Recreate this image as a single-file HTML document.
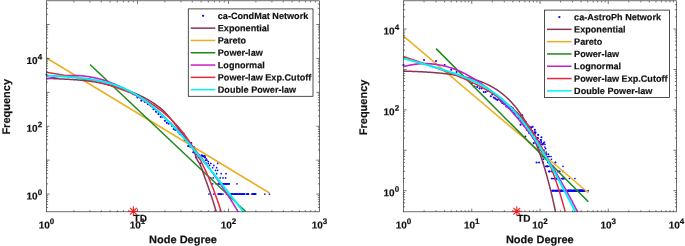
<!DOCTYPE html>
<html><head><meta charset="utf-8"><title>Degree distribution fits</title>
<style>
html,body{margin:0;padding:0;background:#fff}
svg{display:block}
text{font-family:"Liberation Sans", Arial, Helvetica, sans-serif;font-weight:bold;fill:#111;stroke:#111;stroke-width:0.18px}
.t{font-size:10px}.sup{font-size:8px}
.l{font-size:9.1px}
.a{font-size:11px}
.td{font-size:10px}
</style></head>
<body>
<svg width="685" height="246" viewBox="0 0 685 246">
<rect width="685" height="246" fill="#fff"/>
<rect x="46.5" y="0.8" width="273" height="211" fill="#fff" stroke="none"/>
<g fill="#0808f6"><circle cx="46.5" cy="74.75" r="1.05"/><circle cx="73.89" cy="77.18" r="1.05"/><circle cx="89.92" cy="79.21" r="1.05"/><circle cx="101.29" cy="82.21" r="1.05"/><circle cx="110.11" cy="83.65" r="1.05"/><circle cx="117.31" cy="86.02" r="1.05"/><circle cx="123.4" cy="88.27" r="1.05"/><circle cx="128.68" cy="91.57" r="1.05"/><circle cx="133.34" cy="94.23" r="1.05"/><circle cx="137.5" cy="97.42" r="1.05"/><circle cx="141.27" cy="100.82" r="1.05"/><circle cx="144.71" cy="101.85" r="1.05"/><circle cx="147.87" cy="104.16" r="1.05"/><circle cx="150.8" cy="105.79" r="1.05"/><circle cx="153.52" cy="109.3" r="1.05"/><circle cx="156.07" cy="111.83" r="1.05"/><circle cx="158.47" cy="114.1" r="1.05"/><circle cx="160.73" cy="117.1" r="1.05"/><circle cx="162.87" cy="116.79" r="1.05"/><circle cx="164.89" cy="120.77" r="1.05"/><circle cx="166.82" cy="122.84" r="1.05"/><circle cx="168.66" cy="123.68" r="1.05"/><circle cx="170.42" cy="123.31" r="1.05"/><circle cx="172.1" cy="126.1" r="1.05"/><circle cx="173.71" cy="128.99" r="1.05"/><circle cx="175.26" cy="129.9" r="1.05"/><circle cx="176.75" cy="129.53" r="1.05"/><circle cx="178.19" cy="131.71" r="1.05"/><circle cx="179.58" cy="133.77" r="1.05"/><circle cx="180.92" cy="134.27" r="1.05"/><circle cx="182.21" cy="134.01" r="1.05"/><circle cx="183.47" cy="133.52" r="1.05"/><circle cx="184.68" cy="140.11" r="1.05"/><circle cx="185.86" cy="140.49" r="1.05"/><circle cx="187.01" cy="142.13" r="1.05"/><circle cx="188.12" cy="146.08" r="1.05"/><circle cx="189.21" cy="144.99" r="1.05"/><circle cx="190.26" cy="146.66" r="1.05"/><circle cx="191.29" cy="143.02" r="1.05"/><circle cx="192.29" cy="146.66" r="1.05"/><circle cx="193.26" cy="152.34" r="1.05"/><circle cx="194.22" cy="147.26" r="1.05"/><circle cx="195.15" cy="150.7" r="1.05"/><circle cx="196.05" cy="157.47" r="1.05"/><circle cx="196.94" cy="154.18" r="1.05"/><circle cx="197.81" cy="155.2" r="1.05"/><circle cx="198.66" cy="157.47" r="1.05"/><circle cx="199.49" cy="155.2" r="1.05"/><circle cx="200.31" cy="163.44" r="1.05"/><circle cx="201.11" cy="157.47" r="1.05"/><circle cx="201.89" cy="155.2" r="1.05"/><circle cx="202.66" cy="156.29" r="1.05"/><circle cx="203.41" cy="156.29" r="1.05"/><circle cx="204.15" cy="156.29" r="1.05"/><circle cx="204.87" cy="156.29" r="1.05"/><circle cx="208.97" cy="194.07" r="0.85"/><circle cx="213.84" cy="194.07" r="0.85"/><circle cx="218.17" cy="194.07" r="0.85"/><circle cx="218.68" cy="194.07" r="0.85"/><circle cx="219.18" cy="194.07" r="0.85"/><circle cx="219.68" cy="194.07" r="0.85"/><circle cx="220.17" cy="194.07" r="0.85"/><circle cx="220.66" cy="194.07" r="0.85"/><circle cx="221.14" cy="194.07" r="0.85"/><circle cx="221.61" cy="194.07" r="0.85"/><circle cx="223" cy="194.07" r="0.85"/><circle cx="226.47" cy="194.07" r="0.85"/><circle cx="230.05" cy="194.07" r="0.85"/><circle cx="231.17" cy="194.07" r="0.85"/><circle cx="231.54" cy="194.07" r="0.85"/><circle cx="231.91" cy="194.07" r="0.85"/><circle cx="232.27" cy="194.07" r="0.85"/><circle cx="232.62" cy="194.07" r="0.85"/><circle cx="232.98" cy="194.07" r="0.85"/><circle cx="234.02" cy="194.07" r="0.85"/><circle cx="234.37" cy="194.07" r="0.85"/><circle cx="234.7" cy="194.07" r="0.85"/><circle cx="235.04" cy="194.07" r="0.85"/><circle cx="235.37" cy="194.07" r="0.85"/><circle cx="235.71" cy="194.07" r="0.85"/><circle cx="236.03" cy="194.07" r="0.85"/><circle cx="236.36" cy="194.07" r="0.85"/><circle cx="236.68" cy="194.07" r="0.85"/><circle cx="237.32" cy="194.07" r="0.85"/><circle cx="237.63" cy="194.07" r="0.85"/><circle cx="237.95" cy="194.07" r="0.85"/><circle cx="238.87" cy="194.07" r="0.85"/><circle cx="239.17" cy="194.07" r="0.85"/><circle cx="239.77" cy="194.07" r="0.85"/><circle cx="240.07" cy="194.07" r="0.85"/><circle cx="240.36" cy="194.07" r="0.85"/><circle cx="240.65" cy="194.07" r="0.85"/><circle cx="240.94" cy="194.07" r="0.85"/><circle cx="241.23" cy="194.07" r="0.85"/><circle cx="242.36" cy="194.07" r="0.85"/><circle cx="242.64" cy="194.07" r="0.85"/><circle cx="242.91" cy="194.07" r="0.85"/><circle cx="243.18" cy="194.07" r="0.85"/><circle cx="243.46" cy="194.07" r="0.85"/><circle cx="243.73" cy="194.07" r="0.85"/><circle cx="243.99" cy="194.07" r="0.85"/><circle cx="244.26" cy="194.07" r="0.85"/><circle cx="244.79" cy="194.07" r="0.85"/><circle cx="246.83" cy="194.07" r="0.85"/><circle cx="247.07" cy="194.07" r="0.85"/><circle cx="247.57" cy="194.07" r="0.85"/><circle cx="247.81" cy="194.07" r="0.85"/><circle cx="248.29" cy="194.07" r="0.85"/><circle cx="248.53" cy="194.07" r="0.85"/><circle cx="251.95" cy="194.07" r="0.85"/><circle cx="252.38" cy="194.07" r="0.85"/><circle cx="252.6" cy="194.07" r="0.85"/><circle cx="253.03" cy="194.07" r="0.85"/><circle cx="253.24" cy="194.07" r="0.85"/><circle cx="253.45" cy="194.07" r="0.85"/><circle cx="253.66" cy="194.07" r="0.85"/><circle cx="253.87" cy="194.07" r="0.85"/><circle cx="254.07" cy="194.07" r="0.85"/><circle cx="254.28" cy="194.07" r="0.85"/><circle cx="254.49" cy="194.07" r="0.85"/><circle cx="254.69" cy="194.07" r="0.85"/><circle cx="254.89" cy="194.07" r="0.85"/><circle cx="255.1" cy="194.07" r="0.85"/><circle cx="255.3" cy="194.07" r="0.85"/><circle cx="255.5" cy="194.07" r="0.85"/><circle cx="255.7" cy="194.07" r="0.85"/><circle cx="264.87" cy="194.07" r="0.85"/><circle cx="269.47" cy="194.07" r="0.85"/><circle cx="212.67" cy="183.86" r="0.85"/><circle cx="216.06" cy="183.86" r="0.85"/><circle cx="218.17" cy="183.86" r="0.85"/><circle cx="219.18" cy="183.86" r="0.85"/><circle cx="219.68" cy="183.86" r="0.85"/><circle cx="220.17" cy="183.86" r="0.85"/><circle cx="220.66" cy="183.86" r="0.85"/><circle cx="221.14" cy="183.86" r="0.85"/><circle cx="221.61" cy="183.86" r="0.85"/><circle cx="222.08" cy="183.86" r="0.85"/><circle cx="222.54" cy="183.86" r="0.85"/><circle cx="223" cy="183.86" r="0.85"/><circle cx="223.45" cy="183.86" r="0.85"/><circle cx="223.89" cy="183.86" r="0.85"/><circle cx="224.34" cy="183.86" r="0.85"/><circle cx="225.2" cy="183.86" r="0.85"/><circle cx="225.63" cy="183.86" r="0.85"/><circle cx="226.05" cy="183.86" r="0.85"/><circle cx="226.47" cy="183.86" r="0.85"/><circle cx="226.89" cy="183.86" r="0.85"/><circle cx="227.3" cy="183.86" r="0.85"/><circle cx="227.7" cy="183.86" r="0.85"/><circle cx="228.5" cy="183.86" r="0.85"/><circle cx="228.89" cy="183.86" r="0.85"/><circle cx="229.28" cy="183.86" r="0.85"/><circle cx="237" cy="183.86" r="0.85"/><circle cx="210.86" cy="177.89" r="0.85"/><circle cx="213.26" cy="177.89" r="0.85"/><circle cx="217.13" cy="177.89" r="0.85"/><circle cx="220.17" cy="177.89" r="0.85"/><circle cx="223" cy="177.89" r="0.85"/><circle cx="225.63" cy="177.89" r="0.85"/><circle cx="216.6" cy="173.65" r="0.85"/><circle cx="221.14" cy="173.65" r="0.85"/><circle cx="226.05" cy="173.65" r="0.85"/><circle cx="215.52" cy="170.36" r="0.85"/><circle cx="217.65" cy="170.36" r="0.85"/><circle cx="212.67" cy="167.68" r="0.85"/><circle cx="216.6" cy="167.68" r="0.85"/><circle cx="209.61" cy="165.41" r="0.85"/><circle cx="213.84" cy="165.41" r="0.85"/><circle cx="206.28" cy="163.44" r="0.85"/><circle cx="208.31" cy="163.44" r="0.85"/><circle cx="210.86" cy="163.44" r="0.85"/><circle cx="217.65" cy="163.44" r="0.85"/><circle cx="208.31" cy="161.71" r="0.85"/><circle cx="205.59" cy="160.15" r="0.85"/><circle cx="206.97" cy="160.15" r="0.85"/><circle cx="206.28" cy="158.75" r="0.85"/><circle cx="204.87" cy="157.47" r="1.05"/></g>
<path d="M46.5 58 L269.5 193" fill="none" stroke="#ecaf22" stroke-width="1.5" stroke-linejoin="round"/>
<path d="M90 64.5 L245.6 211.5" fill="none" stroke="#1b8a1b" stroke-width="1.5" stroke-linejoin="round"/>
<path d="M46.5 78.4 L47.18 78.42 L47.87 78.44 L48.55 78.46 L49.24 78.48 L49.92 78.5 L50.61 78.52 L51.29 78.55 L51.97 78.57 L52.66 78.6 L53.34 78.62 L54.03 78.65 L54.71 78.67 L55.39 78.7 L56.08 78.73 L56.76 78.76 L57.45 78.79 L58.13 78.82 L58.82 78.85 L59.5 78.88 L60.18 78.91 L60.87 78.94 L61.55 78.97 L62.24 79.01 L62.92 79.04 L63.61 79.07 L64.29 79.11 L64.97 79.14 L65.66 79.18 L66.34 79.22 L67.03 79.25 L67.71 79.29 L68.39 79.33 L69.08 79.37 L69.76 79.41 L70.45 79.45 L71.13 79.5 L71.82 79.54 L72.5 79.58 L73.18 79.63 L73.87 79.67 L74.55 79.72 L75.24 79.77 L75.92 79.82 L76.61 79.87 L77.29 79.92 L77.97 79.97 L78.66 80.03 L79.34 80.08 L80.03 80.14 L80.71 80.2 L81.39 80.26 L82.08 80.32 L82.76 80.38 L83.45 80.44 L84.13 80.51 L84.82 80.58 L85.5 80.65 L86.18 80.73 L86.87 80.81 L87.55 80.89 L88.24 80.97 L88.92 81.06 L89.61 81.15 L90.29 81.25 L90.97 81.34 L91.66 81.44 L92.34 81.54 L93.03 81.65 L93.71 81.75 L94.39 81.86 L95.08 81.97 L95.76 82.08 L96.45 82.2 L97.13 82.32 L97.82 82.44 L98.5 82.56 L99.18 82.68 L99.87 82.81 L100.55 82.93 L101.24 83.06 L101.92 83.19 L102.61 83.33 L103.29 83.46 L103.97 83.59 L104.66 83.73 L105.34 83.88 L106.03 84.02 L106.71 84.17 L107.39 84.33 L108.08 84.49 L108.76 84.65 L109.45 84.82 L110.13 84.99 L110.82 85.17 L111.5 85.34 L112.18 85.53 L112.87 85.71 L113.55 85.9 L114.24 86.09 L114.92 86.29 L115.61 86.49 L116.29 86.69 L116.97 86.9 L117.66 87.11 L118.34 87.32 L119.03 87.53 L119.71 87.75 L120.39 87.97 L121.08 88.19 L121.76 88.42 L122.45 88.64 L123.13 88.87 L123.82 89.11 L124.5 89.34 L125.18 89.58 L125.87 89.82 L126.55 90.06 L127.24 90.3 L127.92 90.55 L128.61 90.79 L129.29 91.04 L129.97 91.29 L130.66 91.54 L131.34 91.8 L132.03 92.07 L132.71 92.34 L133.39 92.62 L134.08 92.9 L134.76 93.19 L135.45 93.48 L136.13 93.78 L136.82 94.08 L137.5 94.39 L138.18 94.71 L138.87 95.02 L139.55 95.35 L140.24 95.68 L140.92 96.01 L141.61 96.35 L142.29 96.69 L142.97 97.04 L143.66 97.39 L144.34 97.75 L145.03 98.11 L145.71 98.47 L146.39 98.84 L147.08 99.22 L147.76 99.6 L148.45 99.99 L149.13 100.39 L149.82 100.8 L150.5 101.21 L151.18 101.64 L151.87 102.07 L152.55 102.51 L153.24 102.96 L153.92 103.41 L154.61 103.88 L155.29 104.35 L155.97 104.82 L156.66 105.31 L157.34 105.8 L158.03 106.3 L158.71 106.81 L159.39 107.33 L160.08 107.87 L160.76 108.42 L161.45 109 L162.13 109.6 L162.82 110.23 L163.5 110.88 L164.18 111.55 L164.87 112.25 L165.55 112.97 L166.24 113.7 L166.92 114.46 L167.61 115.23 L168.29 116.01 L168.97 116.81 L169.66 117.61 L170.34 118.42 L171.03 119.23 L171.71 120.05 L172.39 120.88 L173.08 121.73 L173.76 122.59 L174.45 123.48 L175.13 124.37 L175.82 125.26 L176.5 126.16 L177.18 127.04 L177.87 127.9 L178.55 128.76 L179.24 129.62 L179.92 130.47 L180.61 131.33 L181.29 132.2 L181.97 133.08 L182.66 133.97 L183.34 134.89 L184.03 135.84 L184.71 136.78 L185.39 137.71 L186.08 138.62 L186.76 139.54 L187.45 140.46 L188.13 141.4 L188.82 142.36 L189.5 143.34 L190.18 144.37 L190.87 145.44 L191.55 146.57 L192.24 147.76 L192.92 149.02 L193.61 150.35 L194.29 151.78 L194.97 153.57 L195.66 155.74 L196.34 157.85 L197.03 159.47 L197.71 160.73 L198.39 161.8 L199.08 162.84 L199.76 163.97 L200.45 165.31 L201.13 166.92 L201.82 168.71 L202.5 170.65 L203.18 172.67 L203.87 174.71 L204.55 176.72 L205.24 178.66 L205.92 180.57 L206.61 182.47 L207.29 184.37 L207.97 186.28 L208.66 188.2 L209.34 190.15 L210.03 192.12 L210.71 194.14 L211.39 196.19 L212.08 198.27 L212.76 200.38 L213.45 202.53 L214.13 204.71 L214.82 206.92 L215.5 209.17 L216.18 211.45 L216.29 211.8" fill="none" stroke="#8b3456" stroke-width="1.5" stroke-linejoin="round"/>
<path d="M46.5 78.92 L47.18 78.75 L47.87 78.57 L48.55 78.41 L49.24 78.24 L49.92 78.08 L50.61 77.93 L51.29 77.78 L51.97 77.63 L52.66 77.49 L53.34 77.36 L54.03 77.23 L54.71 77.1 L55.39 76.98 L56.08 76.86 L56.76 76.75 L57.45 76.64 L58.13 76.54 L58.82 76.44 L59.5 76.35 L60.18 76.26 L60.87 76.17 L61.55 76.1 L62.24 76.02 L62.92 75.95 L63.61 75.88 L64.29 75.82 L64.97 75.77 L65.66 75.72 L66.34 75.67 L67.03 75.63 L67.71 75.59 L68.39 75.56 L69.08 75.53 L69.76 75.5 L70.45 75.49 L71.13 75.47 L71.82 75.46 L72.5 75.46 L73.18 75.46 L73.87 75.46 L74.55 75.47 L75.24 75.48 L75.92 75.5 L76.61 75.53 L77.29 75.55 L77.97 75.59 L78.66 75.62 L79.34 75.67 L80.03 75.71 L80.71 75.76 L81.39 75.82 L82.08 75.88 L82.76 75.94 L83.45 76.01 L84.13 76.09 L84.82 76.17 L85.5 76.25 L86.18 76.34 L86.87 76.43 L87.55 76.53 L88.24 76.63 L88.92 76.74 L89.61 76.85 L90.29 76.97 L90.97 77.09 L91.66 77.22 L92.34 77.35 L93.03 77.48 L93.71 77.62 L94.39 77.77 L95.08 77.92 L95.76 78.07 L96.45 78.23 L97.13 78.39 L97.82 78.56 L98.5 78.73 L99.18 78.91 L99.87 79.09 L100.55 79.28 L101.24 79.47 L101.92 79.66 L102.61 79.86 L103.29 80.07 L103.97 80.28 L104.66 80.49 L105.34 80.71 L106.03 80.94 L106.71 81.17 L107.39 81.4 L108.08 81.64 L108.76 81.88 L109.45 82.13 L110.13 82.38 L110.82 82.64 L111.5 82.9 L112.18 83.16 L112.87 83.43 L113.55 83.71 L114.24 83.99 L114.92 84.27 L115.61 84.56 L116.29 84.86 L116.97 85.16 L117.66 85.46 L118.34 85.77 L119.03 86.08 L119.71 86.4 L120.39 86.72 L121.08 87.04 L121.76 87.38 L122.45 87.71 L123.13 88.05 L123.82 88.4 L124.5 88.75 L125.18 89.1 L125.87 89.46 L126.55 89.83 L127.24 90.19 L127.92 90.57 L128.61 90.95 L129.29 91.33 L129.97 91.72 L130.66 92.11 L131.34 92.5 L132.03 92.91 L132.71 93.31 L133.39 93.72 L134.08 94.14 L134.76 94.56 L135.45 94.98 L136.13 95.41 L136.82 95.85 L137.5 96.28 L138.18 96.73 L138.87 97.18 L139.55 97.63 L140.24 98.09 L140.92 98.55 L141.61 99.01 L142.29 99.49 L142.97 99.96 L143.66 100.44 L144.34 100.93 L145.03 101.42 L145.71 101.91 L146.39 102.41 L147.08 102.92 L147.76 103.42 L148.45 103.94 L149.13 104.46 L149.82 104.98 L150.5 105.51 L151.18 106.04 L151.87 106.57 L152.55 107.12 L153.24 107.66 L153.92 108.21 L154.61 108.77 L155.29 109.33 L155.97 109.89 L156.66 110.46 L157.34 111.04 L158.03 111.62 L158.71 112.2 L159.39 112.79 L160.08 113.38 L160.76 113.98 L161.45 114.58 L162.13 115.19 L162.82 115.8 L163.5 116.41 L164.18 117.03 L164.87 117.66 L165.55 118.29 L166.24 118.92 L166.92 119.56 L167.61 120.21 L168.29 120.86 L168.97 121.51 L169.66 122.17 L170.34 122.83 L171.03 123.5 L171.71 124.17 L172.39 124.85 L173.08 125.53 L173.76 126.21 L174.45 126.91 L175.13 127.6 L175.82 128.3 L176.5 129.01 L177.18 129.72 L177.87 130.43 L178.55 131.15 L179.24 131.87 L179.92 132.6 L180.61 133.33 L181.29 134.07 L181.97 134.81 L182.66 135.56 L183.34 136.31 L184.03 137.07 L184.71 137.83 L185.39 138.59 L186.08 139.36 L186.76 140.14 L187.45 140.92 L188.13 141.7 L188.82 142.49 L189.5 143.28 L190.18 144.08 L190.87 144.88 L191.55 145.69 L192.24 146.5 L192.92 147.32 L193.61 148.14 L194.29 148.97 L194.97 149.8 L195.66 150.64 L196.34 151.48 L197.03 152.32 L197.71 153.17 L198.39 154.02 L199.08 154.88 L199.76 155.75 L200.45 156.61 L201.13 157.49 L201.82 158.37 L202.5 159.25 L203.18 160.13 L203.87 161.03 L204.55 161.92 L205.24 162.82 L205.92 163.73 L206.61 164.64 L207.29 165.55 L207.97 166.47 L208.66 167.4 L209.34 168.33 L210.03 169.26 L210.71 170.2 L211.39 171.14 L212.08 172.09 L212.76 173.04 L213.45 174 L214.13 174.96 L214.82 175.93 L215.5 176.9 L216.18 177.87 L216.87 178.85 L217.55 179.84 L218.24 180.83 L218.92 181.82 L219.61 182.82 L220.29 183.82 L220.97 184.83 L221.66 185.84 L222.34 186.86 L223.03 187.88 L223.71 188.91 L224.39 189.94 L225.08 190.98 L225.76 192.02 L226.45 193.07 L227.13 194.12 L227.82 195.17 L228.5 196.23 L229.18 197.3 L229.87 198.36 L230.55 199.44 L231.24 200.52 L231.92 201.6 L232.61 202.69 L233.29 203.78 L233.97 204.88 L234.66 205.98 L235.34 207.08 L236.03 208.19 L236.71 209.31 L237.39 210.43 L238.08 211.56 L238.23 211.8" fill="none" stroke="#c81fc8" stroke-width="1.6" stroke-linejoin="round"/>
<path d="M46.5 72.35 L47.18 72.46 L47.87 72.56 L48.55 72.67 L49.24 72.78 L49.92 72.88 L50.61 72.99 L51.29 73.1 L51.97 73.21 L52.66 73.32 L53.34 73.43 L54.03 73.54 L54.71 73.65 L55.39 73.76 L56.08 73.87 L56.76 73.98 L57.45 74.09 L58.13 74.21 L58.82 74.32 L59.5 74.44 L60.18 74.55 L60.87 74.67 L61.55 74.78 L62.24 74.9 L62.92 75.02 L63.61 75.14 L64.29 75.26 L64.97 75.37 L65.66 75.5 L66.34 75.62 L67.03 75.74 L67.71 75.86 L68.39 75.98 L69.08 76.11 L69.76 76.23 L70.45 76.36 L71.13 76.48 L71.82 76.61 L72.5 76.74 L73.18 76.87 L73.87 77 L74.55 77.13 L75.24 77.26 L75.92 77.39 L76.61 77.53 L77.29 77.66 L77.97 77.8 L78.66 77.93 L79.34 78.07 L80.03 78.21 L80.71 78.35 L81.39 78.49 L82.08 78.63 L82.76 78.77 L83.45 78.91 L84.13 79.06 L84.82 79.2 L85.5 79.35 L86.18 79.5 L86.87 79.65 L87.55 79.8 L88.24 79.95 L88.92 80.1 L89.61 80.26 L90.29 80.41 L90.97 80.57 L91.66 80.73 L92.34 80.89 L93.03 81.05 L93.71 81.21 L94.39 81.37 L95.08 81.54 L95.76 81.7 L96.45 81.87 L97.13 82.04 L97.82 82.21 L98.5 82.38 L99.18 82.56 L99.87 82.74 L100.55 82.91 L101.24 83.09 L101.92 83.27 L102.61 83.46 L103.29 83.64 L103.97 83.83 L104.66 84.02 L105.34 84.21 L106.03 84.4 L106.71 84.59 L107.39 84.79 L108.08 84.99 L108.76 85.19 L109.45 85.39 L110.13 85.59 L110.82 85.8 L111.5 86.01 L112.18 86.22 L112.87 86.43 L113.55 86.65 L114.24 86.87 L114.92 87.09 L115.61 87.31 L116.29 87.54 L116.97 87.76 L117.66 88 L118.34 88.23 L119.03 88.46 L119.71 88.7 L120.39 88.94 L121.08 89.19 L121.76 89.44 L122.45 89.69 L123.13 89.94 L123.82 90.2 L124.5 90.45 L125.18 90.72 L125.87 90.98 L126.55 91.25 L127.24 91.52 L127.92 91.8 L128.61 92.08 L129.29 92.36 L129.97 92.64 L130.66 92.93 L131.34 93.23 L132.03 93.52 L132.71 93.82 L133.39 94.13 L134.08 94.44 L134.76 94.75 L135.45 95.06 L136.13 95.38 L136.82 95.71 L137.5 96.04 L138.18 96.37 L138.87 96.71 L139.55 97.05 L140.24 97.4 L140.92 97.75 L141.61 98.11 L142.29 98.47 L142.97 98.83 L143.66 99.2 L144.34 99.58 L145.03 99.96 L145.71 100.35 L146.39 100.74 L147.08 101.14 L147.76 101.54 L148.45 101.95 L149.13 102.36 L149.82 102.78 L150.5 103.21 L151.18 103.64 L151.87 104.08 L152.55 104.52 L153.24 104.97 L153.92 105.43 L154.61 105.89 L155.29 106.36 L155.97 106.84 L156.66 107.32 L157.34 107.81 L158.03 108.31 L158.71 108.82 L159.39 109.33 L160.08 109.85 L160.76 110.38 L161.45 110.92 L162.13 111.46 L162.82 112.01 L163.5 112.57 L164.18 113.14 L164.87 113.72 L165.55 114.31 L166.24 114.9 L166.92 115.5 L167.61 116.12 L168.29 116.74 L168.97 117.37 L169.66 118.01 L170.34 118.66 L171.03 119.33 L171.71 120 L172.39 120.68 L173.08 121.37 L173.76 122.07 L174.45 122.79 L175.13 123.51 L175.82 124.25 L176.5 125 L177.18 125.76 L177.87 126.53 L178.55 127.31 L179.24 128.11 L179.92 128.91 L180.61 129.73 L181.29 130.57 L181.97 131.41 L182.66 132.27 L183.34 133.15 L184.03 134.04 L184.71 134.94 L185.39 135.85 L186.08 136.79 L186.76 137.73 L187.45 138.69 L188.13 139.67 L188.82 140.66 L189.5 141.67 L190.18 142.69 L190.87 143.73 L191.55 144.79 L192.24 145.86 L192.92 146.95 L193.61 148.06 L194.29 149.19 L194.97 150.34 L195.66 151.5 L196.34 152.68 L197.03 153.89 L197.71 155.11 L198.39 156.35 L199.08 157.61 L199.76 158.89 L200.45 160.2 L201.13 161.52 L201.82 162.87 L202.5 164.24 L203.18 165.63 L203.87 167.04 L204.55 168.48 L205.24 169.94 L205.92 171.43 L206.61 172.94 L207.29 174.47 L207.97 176.04 L208.66 177.62 L209.34 179.23 L210.03 180.87 L210.71 182.54 L211.39 184.23 L212.08 185.96 L212.76 187.71 L213.45 189.49 L214.13 191.3 L214.82 193.14 L215.5 195.01 L216.18 196.91 L216.87 198.85 L217.55 200.81 L218.24 202.81 L218.92 204.85 L219.61 206.91 L220.29 209.02 L220.97 211.15 L221.18 211.8" fill="none" stroke="#e5283f" stroke-width="1.5" stroke-linejoin="round"/>
<path d="M46.5 75.56 L47.18 75.59 L47.87 75.63 L48.55 75.66 L49.24 75.7 L49.92 75.73 L50.61 75.77 L51.29 75.81 L51.97 75.84 L52.66 75.88 L53.34 75.92 L54.03 75.96 L54.71 75.99 L55.39 76.03 L56.08 76.07 L56.76 76.11 L57.45 76.16 L58.13 76.2 L58.82 76.24 L59.5 76.28 L60.18 76.33 L60.87 76.37 L61.55 76.42 L62.24 76.46 L62.92 76.51 L63.61 76.55 L64.29 76.6 L64.97 76.65 L65.66 76.7 L66.34 76.75 L67.03 76.8 L67.71 76.86 L68.39 76.91 L69.08 76.96 L69.76 77.02 L70.45 77.07 L71.13 77.13 L71.82 77.19 L72.5 77.25 L73.18 77.31 L73.87 77.37 L74.55 77.44 L75.24 77.5 L75.92 77.57 L76.61 77.63 L77.29 77.7 L77.97 77.77 L78.66 77.84 L79.34 77.91 L80.03 77.99 L80.71 78.06 L81.39 78.14 L82.08 78.22 L82.76 78.3 L83.45 78.38 L84.13 78.47 L84.82 78.55 L85.5 78.64 L86.18 78.73 L86.87 78.82 L87.55 78.91 L88.24 79.01 L88.92 79.11 L89.61 79.21 L90.29 79.31 L90.97 79.41 L91.66 79.52 L92.34 79.63 L93.03 79.74 L93.71 79.85 L94.39 79.97 L95.08 80.09 L95.76 80.21 L96.45 80.34 L97.13 80.46 L97.82 80.59 L98.5 80.73 L99.18 80.86 L99.87 81 L100.55 81.15 L101.24 81.29 L101.92 81.44 L102.61 81.59 L103.29 81.75 L103.97 81.91 L104.66 82.07 L105.34 82.24 L106.03 82.41 L106.71 82.58 L107.39 82.76 L108.08 82.94 L108.76 83.13 L109.45 83.32 L110.13 83.52 L110.82 83.71 L111.5 83.92 L112.18 84.13 L112.87 84.34 L113.55 84.55 L114.24 84.78 L114.92 85 L115.61 85.23 L116.29 85.47 L116.97 85.71 L117.66 85.96 L118.34 86.21 L119.03 86.46 L119.71 86.73 L120.39 86.99 L121.08 87.26 L121.76 87.54 L122.45 87.83 L123.13 88.11 L123.82 88.41 L124.5 88.71 L125.18 89.02 L125.87 89.33 L126.55 89.65 L127.24 89.97 L127.92 90.3 L128.61 90.64 L129.29 90.98 L129.97 91.33 L130.66 91.68 L131.34 92.05 L132.03 92.41 L132.71 92.79 L133.39 93.17 L134.08 93.55 L134.76 93.95 L135.45 94.35 L136.13 94.75 L136.82 95.17 L137.5 95.59 L138.18 96.01 L138.87 96.45 L139.55 96.89 L140.24 97.33 L140.92 97.79 L141.61 98.24 L142.29 98.71 L142.97 99.18 L143.66 99.66 L144.34 100.15 L145.03 100.64 L145.71 101.14 L146.39 101.65 L147.08 102.16 L147.76 102.68 L148.45 103.2 L149.13 103.73 L149.82 104.27 L150.5 104.82 L151.18 105.37 L151.87 105.93 L152.55 106.49 L153.24 107.06 L153.92 107.63 L154.61 108.22 L155.29 108.8 L155.97 109.4 L156.66 110 L157.34 110.6 L158.03 111.22 L158.71 111.83 L159.39 112.46 L160.08 113.09 L160.76 113.72 L161.45 114.36 L162.13 115.01 L162.82 115.66 L163.5 116.31 L164.18 116.97 L164.87 117.64 L165.55 118.31 L166.24 118.99 L166.92 119.67 L167.61 120.35 L168.29 121.04 L168.97 121.74 L169.66 122.44 L170.34 123.14 L171.03 123.85 L171.71 124.57 L172.39 125.28 L173.08 126.01 L173.76 126.73 L174.45 127.46 L175.13 128.2 L175.82 128.93 L176.5 129.68 L177.18 130.42 L177.87 131.17 L178.55 131.92 L179.24 132.68 L179.92 133.44 L180.61 134.2 L181.29 134.97 L181.97 135.74 L182.66 136.51 L183.34 137.29 L184.03 138.06 L184.71 138.85 L185.39 139.63 L186.08 140.42 L186.76 141.21 L187.45 142 L188.13 142.8 L188.82 143.59 L189.5 144.4 L190.18 145.2 L190.87 146 L191.55 146.81 L192.24 147.62 L192.92 148.43 L193.61 149.25 L194.29 150.06 L194.97 150.88 L195.66 151.7 L196.34 152.53 L197.03 153.35 L197.71 154.18 L198.39 155 L199.08 155.83 L199.76 156.67 L200.45 157.5 L201.13 158.33 L201.82 159.17 L202.5 160.01 L203.18 160.85 L203.87 161.69 L204.55 162.53 L205.24 163.38 L205.92 164.22 L206.61 165.07 L207.29 165.91 L207.97 166.76 L208.66 167.61 L209.34 168.46 L210.03 169.32 L210.71 170.17 L211.39 171.03 L212.08 171.88 L212.76 172.74 L213.45 173.6 L214.13 174.45 L214.82 175.31 L215.5 176.17 L216.18 177.04 L216.87 177.9 L217.55 178.76 L218.24 179.62 L218.92 180.49 L219.61 181.35 L220.29 182.22 L220.97 183.09 L221.66 183.96 L222.34 184.82 L223.03 185.69 L223.71 186.56 L224.39 187.43 L225.08 188.3 L225.76 189.18 L226.45 190.05 L227.13 190.92 L227.82 191.79 L228.5 192.67 L229.18 193.54 L229.87 194.42 L230.55 195.29 L231.24 196.17 L231.92 197.04 L232.61 197.92 L233.29 198.8 L233.97 199.67 L234.66 200.55 L235.34 201.43 L236.03 202.31 L236.71 203.19 L237.39 204.07 L238.08 204.95 L238.76 205.83 L239.45 206.71 L240.13 207.59 L240.82 208.47 L241.5 209.35 L242.18 210.23 L242.87 211.11 L243.4 211.8" fill="none" stroke="#00f2f2" stroke-width="2.0" stroke-linejoin="round"/>
<path d="M73.89 211.8v-1.6M73.89 0.8v1.6M89.92 211.8v-1.6M89.92 0.8v1.6M101.29 211.8v-1.6M101.29 0.8v1.6M110.11 211.8v-1.6M110.11 0.8v1.6M117.31 211.8v-1.6M117.31 0.8v1.6M123.4 211.8v-1.6M123.4 0.8v1.6M128.68 211.8v-1.6M128.68 0.8v1.6M133.34 211.8v-1.6M133.34 0.8v1.6M137.5 211.8v-3.2M137.5 0.8v3.2M164.89 211.8v-1.6M164.89 0.8v1.6M180.92 211.8v-1.6M180.92 0.8v1.6M192.29 211.8v-1.6M192.29 0.8v1.6M201.11 211.8v-1.6M201.11 0.8v1.6M208.31 211.8v-1.6M208.31 0.8v1.6M214.4 211.8v-1.6M214.4 0.8v1.6M219.68 211.8v-1.6M219.68 0.8v1.6M224.34 211.8v-1.6M224.34 0.8v1.6M228.5 211.8v-3.2M228.5 0.8v3.2M255.89 211.8v-1.6M255.89 0.8v1.6M271.92 211.8v-1.6M271.92 0.8v1.6M283.29 211.8v-1.6M283.29 0.8v1.6M292.11 211.8v-1.6M292.11 0.8v1.6M299.31 211.8v-1.6M299.31 0.8v1.6M305.4 211.8v-1.6M305.4 0.8v1.6M310.68 211.8v-1.6M310.68 0.8v1.6M315.34 211.8v-1.6M315.34 0.8v1.6M46.5 207.56h1.6M319.5 207.56h-1.6M46.5 204.28h1.6M319.5 204.28h-1.6M46.5 201.59h1.6M319.5 201.59h-1.6M46.5 199.32h1.6M319.5 199.32h-1.6M46.5 197.35h1.6M319.5 197.35h-1.6M46.5 195.62h1.6M319.5 195.62h-1.6M46.5 194.07h3.2M319.5 194.07h-3.2M46.5 183.86h1.6M319.5 183.86h-1.6M46.5 177.89h1.6M319.5 177.89h-1.6M46.5 173.65h1.6M319.5 173.65h-1.6M46.5 170.36h1.6M319.5 170.36h-1.6M46.5 167.68h1.6M319.5 167.68h-1.6M46.5 165.41h1.6M319.5 165.41h-1.6M46.5 163.44h1.6M319.5 163.44h-1.6M46.5 161.71h1.6M319.5 161.71h-1.6M46.5 160.15h3.2M319.5 160.15h-3.2M46.5 149.95h1.6M319.5 149.95h-1.6M46.5 143.97h1.6M319.5 143.97h-1.6M46.5 139.74h1.6M319.5 139.74h-1.6M46.5 136.45h1.6M319.5 136.45h-1.6M46.5 133.77h1.6M319.5 133.77h-1.6M46.5 131.5h1.6M319.5 131.5h-1.6M46.5 129.53h1.6M319.5 129.53h-1.6M46.5 127.79h1.6M319.5 127.79h-1.6M46.5 126.24h3.2M319.5 126.24h-3.2M46.5 116.03h1.6M319.5 116.03h-1.6M46.5 110.06h1.6M319.5 110.06h-1.6M46.5 105.82h1.6M319.5 105.82h-1.6M46.5 102.54h1.6M319.5 102.54h-1.6M46.5 99.85h1.6M319.5 99.85h-1.6M46.5 97.58h1.6M319.5 97.58h-1.6M46.5 95.62h1.6M319.5 95.62h-1.6M46.5 93.88h1.6M319.5 93.88h-1.6M46.5 92.33h3.2M319.5 92.33h-3.2M46.5 82.12h1.6M319.5 82.12h-1.6M46.5 76.15h1.6M319.5 76.15h-1.6M46.5 71.91h1.6M319.5 71.91h-1.6M46.5 68.63h1.6M319.5 68.63h-1.6M46.5 65.94h1.6M319.5 65.94h-1.6M46.5 63.67h1.6M319.5 63.67h-1.6M46.5 61.7h1.6M319.5 61.7h-1.6M46.5 59.97h1.6M319.5 59.97h-1.6M46.5 58.42h3.2M319.5 58.42h-3.2M46.5 48.21h1.6M319.5 48.21h-1.6M46.5 42.24h1.6M319.5 42.24h-1.6M46.5 38h1.6M319.5 38h-1.6M46.5 34.71h1.6M319.5 34.71h-1.6M46.5 32.03h1.6M319.5 32.03h-1.6M46.5 29.76h1.6M319.5 29.76h-1.6M46.5 27.79h1.6M319.5 27.79h-1.6M46.5 26.06h1.6M319.5 26.06h-1.6M46.5 24.5h3.2M319.5 24.5h-3.2M46.5 14.3h1.6M319.5 14.3h-1.6M46.5 8.32h1.6M319.5 8.32h-1.6M46.5 4.09h1.6M319.5 4.09h-1.6" stroke="#222" stroke-width="0.6" fill="none"/>
<rect x="46.5" y="0.8" width="273" height="211" fill="none" stroke="#222" stroke-width="0.65"/>
<text transform="translate(46.5 228.5) rotate(0.03)" text-anchor="middle" class="t">10<tspan dy="-4.5" class="sup">0</tspan></text>
<text transform="translate(137.5 228.5) rotate(0.03)" text-anchor="middle" class="t">10<tspan dy="-4.5" class="sup">1</tspan></text>
<text transform="translate(228.5 228.5) rotate(0.03)" text-anchor="middle" class="t">10<tspan dy="-4.5" class="sup">2</tspan></text>
<text transform="translate(319.5 228.5) rotate(0.03)" text-anchor="middle" class="t">10<tspan dy="-4.5" class="sup">3</tspan></text>
<text transform="translate(42.1 199.57) rotate(0.03)" text-anchor="end" class="t">10<tspan dy="-4.5" class="sup">0</tspan></text>
<text transform="translate(42.1 131.74) rotate(0.03)" text-anchor="end" class="t">10<tspan dy="-4.5" class="sup">2</tspan></text>
<text transform="translate(42.1 63.92) rotate(0.03)" text-anchor="end" class="t">10<tspan dy="-4.5" class="sup">4</tspan></text>
<rect x="188.3" y="8.9" width="124.7" height="87.4" fill="#fff" stroke="#222" stroke-width="0.8"/>
<circle cx="203.1" cy="15.85" r="1.15" fill="#0808f6"/>
<text transform="translate(217.8 18.95) rotate(0.03)" class="l">ca-CondMat Network</text>
<path d="M190.7 28.15h24.6" stroke="#8b3456" stroke-width="1.5" fill="none"/>
<text transform="translate(217.8 31.25) rotate(0.03)" class="l">Exponential</text>
<path d="M190.7 40.45h24.6" stroke="#ecaf22" stroke-width="1.5" fill="none"/>
<text transform="translate(217.8 43.55) rotate(0.03)" class="l">Pareto</text>
<path d="M190.7 52.75h24.6" stroke="#1b8a1b" stroke-width="1.5" fill="none"/>
<text transform="translate(217.8 55.85) rotate(0.03)" class="l">Power-law</text>
<path d="M190.7 65.05h24.6" stroke="#c81fc8" stroke-width="1.5" fill="none"/>
<text transform="translate(217.8 68.15) rotate(0.03)" class="l">Lognormal</text>
<path d="M190.7 77.35h24.6" stroke="#e5283f" stroke-width="1.5" fill="none"/>
<text transform="translate(217.8 80.45) rotate(0.03)" class="l">Power-law Exp.Cutoff</text>
<path d="M190.7 89.65h24.6" stroke="#00f2f2" stroke-width="1.5" fill="none"/>
<text transform="translate(217.8 92.75) rotate(0.03)" class="l">Double Power-law</text>
<path d="M128.4 211.3L138.4 211.3M130.04 207.94L136.76 214.66M133.4 206.3L133.4 216.3M136.76 207.94L130.04 214.66" stroke="#f01818" stroke-width="1.05" fill="none"/>
<text transform="translate(133.6 221.8) rotate(0.03)" class="td">TD</text>
<text transform="translate(183 243.15) rotate(0.03)" text-anchor="middle" class="a">Node Degree</text>
<text transform="translate(10 106.8) rotate(-90.03)" text-anchor="middle" class="a">Frequency</text>
<rect x="403.5" y="0.8" width="273" height="211" fill="#fff" stroke="none"/>
<g fill="#0808f6"><circle cx="403.5" cy="65" r="1.05"/><circle cx="424.05" cy="60" r="1.05"/><circle cx="436.06" cy="61" r="1.05"/><circle cx="444.59" cy="65.1" r="1.05"/><circle cx="451.2" cy="69.8" r="1.05"/><circle cx="456.61" cy="72" r="1.05"/><circle cx="461.18" cy="76.69" r="1.05"/><circle cx="465.14" cy="78.04" r="1.05"/><circle cx="468.63" cy="80.13" r="1.05"/><circle cx="471.75" cy="83.23" r="1.05"/><circle cx="474.58" cy="86.57" r="1.05"/><circle cx="477.15" cy="86.99" r="1.05"/><circle cx="479.53" cy="88.33" r="1.05"/><circle cx="481.72" cy="88.38" r="1.05"/><circle cx="483.77" cy="92.04" r="1.05"/><circle cx="485.68" cy="92.04" r="1.05"/><circle cx="487.48" cy="90.87" r="1.05"/><circle cx="489.17" cy="91.05" r="1.05"/><circle cx="490.77" cy="96.26" r="1.05"/><circle cx="492.3" cy="94.49" r="1.05"/><circle cx="493.74" cy="97.61" r="1.05"/><circle cx="495.12" cy="98.41" r="1.05"/><circle cx="496.44" cy="99.45" r="1.05"/><circle cx="497.7" cy="99.84" r="1.05"/><circle cx="498.91" cy="98.78" r="1.05"/><circle cx="500.07" cy="99.94" r="1.05"/><circle cx="501.19" cy="101.61" r="1.05"/><circle cx="502.27" cy="102.98" r="1.05"/><circle cx="503.31" cy="103.22" r="1.05"/><circle cx="504.31" cy="104.21" r="1.05"/><circle cx="505.29" cy="103.46" r="1.05"/><circle cx="506.23" cy="106.51" r="1.05"/><circle cx="507.14" cy="106.22" r="1.05"/><circle cx="508.02" cy="107.1" r="1.05"/><circle cx="508.88" cy="107.71" r="1.05"/><circle cx="509.72" cy="108.03" r="1.05"/><circle cx="510.53" cy="108.67" r="1.05"/><circle cx="511.32" cy="107.41" r="1.05"/><circle cx="512.09" cy="110.57" r="1.05"/><circle cx="512.84" cy="108.35" r="1.05"/><circle cx="513.57" cy="112.5" r="1.05"/><circle cx="514.29" cy="113.56" r="1.05"/><circle cx="514.98" cy="113.13" r="1.05"/><circle cx="515.67" cy="113.34" r="1.05"/><circle cx="516.33" cy="113.99" r="1.05"/><circle cx="516.98" cy="112.71" r="1.05"/><circle cx="517.62" cy="113.56" r="1.05"/><circle cx="518.24" cy="115.62" r="1.05"/><circle cx="518.86" cy="117.97" r="1.05"/><circle cx="519.45" cy="117.97" r="1.05"/><circle cx="520.04" cy="115.38" r="1.05"/><circle cx="520.62" cy="124.67" r="1.05"/><circle cx="521.18" cy="120.35" r="1.05"/><circle cx="521.74" cy="121" r="1.05"/><circle cx="522.28" cy="115.38" r="1.05"/><circle cx="522.81" cy="118.82" r="1.05"/><circle cx="523.34" cy="122.74" r="1.05"/><circle cx="523.85" cy="125.5" r="1.05"/><circle cx="524.36" cy="120.67" r="1.05"/><circle cx="524.86" cy="121.67" r="1.05"/><circle cx="525.35" cy="136.43" r="1.05"/><circle cx="525.83" cy="122.02" r="1.05"/><circle cx="526.3" cy="123.48" r="1.05"/><circle cx="526.77" cy="129.85" r="1.05"/><circle cx="527.23" cy="127.31" r="1.05"/><circle cx="527.68" cy="125.08" r="1.05"/><circle cx="528.13" cy="126.38" r="1.05"/><circle cx="528.57" cy="128.28" r="1.05"/><circle cx="529" cy="132.83" r="1.05"/><circle cx="529.43" cy="126.84" r="1.05"/><circle cx="529.85" cy="129.31" r="1.05"/><circle cx="530.26" cy="130.41" r="1.05"/><circle cx="530.67" cy="128.28" r="1.05"/><circle cx="531.08" cy="127.31" r="1.05"/><circle cx="531.47" cy="132.2" r="1.05"/><circle cx="531.87" cy="132.83" r="1.05"/><circle cx="532.25" cy="130.99" r="1.05"/><circle cx="532.64" cy="126.84" r="1.05"/><circle cx="533.01" cy="134.9" r="1.05"/><circle cx="533.39" cy="138.1" r="1.05"/><circle cx="533.75" cy="143.15" r="1.05"/><circle cx="534.12" cy="139" r="1.05"/><circle cx="534.48" cy="132.2" r="1.05"/><circle cx="534.83" cy="129.85" r="1.05"/><circle cx="535.18" cy="133.5" r="1.05"/><circle cx="535.53" cy="132.2" r="1.05"/><circle cx="535.87" cy="139" r="1.05"/><circle cx="536.21" cy="142.02" r="1.05"/><circle cx="536.55" cy="138.1" r="1.05"/><circle cx="536.88" cy="139" r="1.05"/><circle cx="537.2" cy="138.1" r="1.05"/><circle cx="537.53" cy="138.1" r="1.05"/><circle cx="537.85" cy="138.1" r="1.05"/><circle cx="538.17" cy="134.9" r="1.05"/><circle cx="538.48" cy="147.07" r="1.05"/><circle cx="538.79" cy="142.02" r="1.05"/><circle cx="539.1" cy="142.02" r="1.05"/><circle cx="539.4" cy="144.36" r="1.05"/><circle cx="539.7" cy="150.26" r="1.05"/><circle cx="540" cy="145.66" r="1.05"/><circle cx="540.29" cy="144.36" r="1.05"/><circle cx="540.59" cy="139.95" r="1.05"/><circle cx="540.88" cy="139.95" r="1.05"/><circle cx="541.16" cy="142.02" r="1.05"/><circle cx="541.45" cy="137.24" r="1.05"/><circle cx="541.73" cy="152.11" r="1.05"/><circle cx="542.01" cy="144.36" r="1.05"/><circle cx="542.28" cy="150.26" r="1.05"/><circle cx="542.55" cy="156.52" r="1.05"/><circle cx="542.83" cy="144.36" r="1.05"/><circle cx="543.09" cy="162.43" r="1.05"/><circle cx="543.36" cy="159.23" r="1.05"/><circle cx="543.62" cy="143.15" r="1.05"/><circle cx="543.88" cy="150.26" r="1.05"/><circle cx="552.02" cy="190.67" r="0.85"/><circle cx="552.41" cy="190.67" r="0.85"/><circle cx="552.8" cy="190.67" r="0.85"/><circle cx="553.37" cy="190.67" r="0.85"/><circle cx="553.75" cy="190.67" r="0.85"/><circle cx="553.93" cy="190.67" r="0.85"/><circle cx="554.66" cy="190.67" r="0.85"/><circle cx="555.55" cy="190.67" r="0.85"/><circle cx="555.9" cy="190.67" r="0.85"/><circle cx="556.07" cy="190.67" r="0.85"/><circle cx="556.25" cy="190.67" r="0.85"/><circle cx="556.42" cy="190.67" r="0.85"/><circle cx="557.09" cy="190.67" r="0.85"/><circle cx="557.59" cy="190.67" r="0.85"/><circle cx="557.75" cy="190.67" r="0.85"/><circle cx="558.71" cy="190.67" r="0.85"/><circle cx="559.02" cy="190.67" r="0.85"/><circle cx="559.34" cy="190.67" r="0.85"/><circle cx="559.64" cy="190.67" r="0.85"/><circle cx="559.79" cy="190.67" r="0.85"/><circle cx="560.1" cy="190.67" r="0.85"/><circle cx="560.4" cy="190.67" r="0.85"/><circle cx="560.55" cy="190.67" r="0.85"/><circle cx="560.99" cy="190.67" r="0.85"/><circle cx="561.13" cy="190.67" r="0.85"/><circle cx="561.28" cy="190.67" r="0.85"/><circle cx="561.42" cy="190.67" r="0.85"/><circle cx="561.71" cy="190.67" r="0.85"/><circle cx="561.85" cy="190.67" r="0.85"/><circle cx="562.27" cy="190.67" r="0.85"/><circle cx="562.41" cy="190.67" r="0.85"/><circle cx="563.5" cy="190.67" r="0.85"/><circle cx="563.9" cy="190.67" r="0.85"/><circle cx="564.17" cy="190.67" r="0.85"/><circle cx="564.43" cy="190.67" r="0.85"/><circle cx="565.07" cy="190.67" r="0.85"/><circle cx="565.58" cy="190.67" r="0.85"/><circle cx="565.7" cy="190.67" r="0.85"/><circle cx="565.83" cy="190.67" r="0.85"/><circle cx="566.07" cy="190.67" r="0.85"/><circle cx="566.56" cy="190.67" r="0.85"/><circle cx="566.92" cy="190.67" r="0.85"/><circle cx="567.16" cy="190.67" r="0.85"/><circle cx="567.63" cy="190.67" r="0.85"/><circle cx="567.75" cy="190.67" r="0.85"/><circle cx="568.09" cy="190.67" r="0.85"/><circle cx="568.21" cy="190.67" r="0.85"/><circle cx="568.32" cy="190.67" r="0.85"/><circle cx="568.44" cy="190.67" r="0.85"/><circle cx="568.66" cy="190.67" r="0.85"/><circle cx="568.77" cy="190.67" r="0.85"/><circle cx="569.11" cy="190.67" r="0.85"/><circle cx="569.33" cy="190.67" r="0.85"/><circle cx="569.44" cy="190.67" r="0.85"/><circle cx="569.55" cy="190.67" r="0.85"/><circle cx="569.77" cy="190.67" r="0.85"/><circle cx="569.88" cy="190.67" r="0.85"/><circle cx="570.09" cy="190.67" r="0.85"/><circle cx="570.31" cy="190.67" r="0.85"/><circle cx="570.62" cy="190.67" r="0.85"/><circle cx="570.73" cy="190.67" r="0.85"/><circle cx="570.83" cy="190.67" r="0.85"/><circle cx="570.94" cy="190.67" r="0.85"/><circle cx="571.04" cy="190.67" r="0.85"/><circle cx="571.15" cy="190.67" r="0.85"/><circle cx="571.35" cy="190.67" r="0.85"/><circle cx="571.46" cy="190.67" r="0.85"/><circle cx="571.86" cy="190.67" r="0.85"/><circle cx="571.96" cy="190.67" r="0.85"/><circle cx="572.07" cy="190.67" r="0.85"/><circle cx="572.37" cy="190.67" r="0.85"/><circle cx="572.76" cy="190.67" r="0.85"/><circle cx="573.05" cy="190.67" r="0.85"/><circle cx="573.15" cy="190.67" r="0.85"/><circle cx="573.34" cy="190.67" r="0.85"/><circle cx="573.44" cy="190.67" r="0.85"/><circle cx="573.73" cy="190.67" r="0.85"/><circle cx="574.2" cy="190.67" r="0.85"/><circle cx="574.29" cy="190.67" r="0.85"/><circle cx="574.38" cy="190.67" r="0.85"/><circle cx="574.57" cy="190.67" r="0.85"/><circle cx="574.66" cy="190.67" r="0.85"/><circle cx="574.75" cy="190.67" r="0.85"/><circle cx="575.21" cy="190.67" r="0.85"/><circle cx="575.57" cy="190.67" r="0.85"/><circle cx="575.75" cy="190.67" r="0.85"/><circle cx="576.1" cy="190.67" r="0.85"/><circle cx="576.36" cy="190.67" r="0.85"/><circle cx="576.71" cy="190.67" r="0.85"/><circle cx="577.3" cy="190.67" r="0.85"/><circle cx="577.39" cy="190.67" r="0.85"/><circle cx="577.64" cy="190.67" r="0.85"/><circle cx="577.89" cy="190.67" r="0.85"/><circle cx="577.97" cy="190.67" r="0.85"/><circle cx="578.05" cy="190.67" r="0.85"/><circle cx="578.21" cy="190.67" r="0.85"/><circle cx="578.54" cy="190.67" r="0.85"/><circle cx="578.62" cy="190.67" r="0.85"/><circle cx="578.78" cy="190.67" r="0.85"/><circle cx="579.02" cy="190.67" r="0.85"/><circle cx="579.1" cy="190.67" r="0.85"/><circle cx="579.34" cy="190.67" r="0.85"/><circle cx="579.49" cy="190.67" r="0.85"/><circle cx="579.65" cy="190.67" r="0.85"/><circle cx="579.8" cy="190.67" r="0.85"/><circle cx="579.96" cy="190.67" r="0.85"/><circle cx="580.03" cy="190.67" r="0.85"/><circle cx="580.19" cy="190.67" r="0.85"/><circle cx="580.34" cy="190.67" r="0.85"/><circle cx="580.42" cy="190.67" r="0.85"/><circle cx="580.49" cy="190.67" r="0.85"/><circle cx="580.57" cy="190.67" r="0.85"/><circle cx="580.72" cy="190.67" r="0.85"/><circle cx="580.94" cy="190.67" r="0.85"/><circle cx="581.02" cy="190.67" r="0.85"/><circle cx="581.31" cy="190.67" r="0.85"/><circle cx="581.39" cy="190.67" r="0.85"/><circle cx="581.53" cy="190.67" r="0.85"/><circle cx="581.6" cy="190.67" r="0.85"/><circle cx="581.68" cy="190.67" r="0.85"/><circle cx="581.75" cy="190.67" r="0.85"/><circle cx="581.89" cy="190.67" r="0.85"/><circle cx="581.97" cy="190.67" r="0.85"/><circle cx="582.04" cy="190.67" r="0.85"/><circle cx="582.11" cy="190.67" r="0.85"/><circle cx="582.18" cy="190.67" r="0.85"/><circle cx="582.25" cy="190.67" r="0.85"/><circle cx="582.4" cy="190.67" r="0.85"/><circle cx="582.54" cy="190.67" r="0.85"/><circle cx="582.75" cy="190.67" r="0.85"/><circle cx="582.82" cy="190.67" r="0.85"/><circle cx="583.1" cy="190.67" r="0.85"/><circle cx="583.3" cy="190.67" r="0.85"/><circle cx="583.37" cy="190.67" r="0.85"/><circle cx="583.58" cy="190.67" r="0.85"/><circle cx="583.71" cy="190.67" r="0.85"/><circle cx="583.85" cy="190.67" r="0.85"/><circle cx="583.92" cy="190.67" r="0.85"/><circle cx="583.98" cy="190.67" r="0.85"/><circle cx="584.05" cy="190.67" r="0.85"/><circle cx="584.18" cy="190.67" r="0.85"/><circle cx="584.45" cy="190.67" r="0.85"/><circle cx="584.52" cy="190.67" r="0.85"/><circle cx="584.65" cy="190.67" r="0.85"/><circle cx="584.78" cy="190.67" r="0.85"/><circle cx="588.18" cy="190.67" r="0.85"/><circle cx="551.62" cy="178.51" r="0.85"/><circle cx="552.02" cy="178.51" r="0.85"/><circle cx="553.18" cy="178.51" r="0.85"/><circle cx="554.3" cy="178.51" r="0.85"/><circle cx="554.66" cy="178.51" r="0.85"/><circle cx="555.38" cy="178.51" r="0.85"/><circle cx="555.55" cy="178.51" r="0.85"/><circle cx="555.9" cy="178.51" r="0.85"/><circle cx="556.42" cy="178.51" r="0.85"/><circle cx="556.59" cy="178.51" r="0.85"/><circle cx="556.76" cy="178.51" r="0.85"/><circle cx="557.09" cy="178.51" r="0.85"/><circle cx="557.59" cy="178.51" r="0.85"/><circle cx="557.75" cy="178.51" r="0.85"/><circle cx="558.23" cy="178.51" r="0.85"/><circle cx="559.49" cy="178.51" r="0.85"/><circle cx="561.85" cy="178.51" r="0.85"/><circle cx="562.41" cy="178.51" r="0.85"/><circle cx="562.69" cy="178.51" r="0.85"/><circle cx="562.83" cy="178.51" r="0.85"/><circle cx="562.96" cy="178.51" r="0.85"/><circle cx="563.24" cy="178.51" r="0.85"/><circle cx="564.04" cy="178.51" r="0.85"/><circle cx="564.69" cy="178.51" r="0.85"/><circle cx="569.44" cy="178.51" r="0.85"/><circle cx="574.94" cy="178.51" r="0.85"/><circle cx="548.9" cy="171.39" r="0.85"/><circle cx="549.33" cy="171.39" r="0.85"/><circle cx="549.55" cy="171.39" r="0.85"/><circle cx="551.22" cy="171.39" r="0.85"/><circle cx="552.61" cy="171.39" r="0.85"/><circle cx="553.18" cy="171.39" r="0.85"/><circle cx="554.66" cy="171.39" r="0.85"/><circle cx="557.75" cy="171.39" r="0.85"/><circle cx="557.91" cy="171.39" r="0.85"/><circle cx="559.02" cy="171.39" r="0.85"/><circle cx="559.79" cy="171.39" r="0.85"/><circle cx="562.96" cy="171.39" r="0.85"/><circle cx="545.65" cy="166.34" r="0.85"/><circle cx="546.61" cy="166.34" r="0.85"/><circle cx="547.08" cy="166.34" r="0.85"/><circle cx="547.32" cy="166.34" r="0.85"/><circle cx="547.55" cy="166.34" r="0.85"/><circle cx="548.23" cy="166.34" r="0.85"/><circle cx="550.18" cy="166.34" r="0.85"/><circle cx="551.01" cy="166.34" r="0.85"/><circle cx="551.62" cy="166.34" r="0.85"/><circle cx="552.8" cy="166.34" r="0.85"/><circle cx="552.99" cy="166.34" r="0.85"/><circle cx="562.96" cy="166.34" r="0.85"/><circle cx="536.55" cy="162.43" r="1.05"/><circle cx="539.1" cy="162.43" r="1.05"/><circle cx="547.78" cy="162.43" r="0.85"/><circle cx="548.9" cy="162.43" r="0.85"/><circle cx="555.2" cy="162.43" r="0.85"/><circle cx="555.55" cy="162.43" r="0.85"/><circle cx="546.61" cy="159.23" r="0.85"/><circle cx="547.78" cy="159.23" r="0.85"/><circle cx="551.42" cy="159.23" r="0.85"/><circle cx="544.65" cy="156.52" r="0.85"/><circle cx="548" cy="156.52" r="0.85"/><circle cx="548.23" cy="156.52" r="0.85"/><circle cx="549.33" cy="156.52" r="0.85"/><circle cx="551.01" cy="156.52" r="0.85"/><circle cx="545.65" cy="154.18" r="0.85"/><circle cx="545.89" cy="154.18" r="0.85"/><circle cx="546.61" cy="154.18" r="0.85"/><circle cx="548.45" cy="154.18" r="0.85"/><circle cx="546.14" cy="152.11" r="0.85"/><circle cx="545.65" cy="148.59" r="0.85"/><circle cx="544.91" cy="147.07" r="0.85"/><circle cx="544.91" cy="144.36" r="0.85"/><circle cx="544.4" cy="142.02" r="0.85"/></g>
<path d="M403.5 36.1 L588.3 192.7" fill="none" stroke="#ecaf22" stroke-width="1.5" stroke-linejoin="round"/>
<path d="M436.1 48.6 L588.3 201.7" fill="none" stroke="#1b8a1b" stroke-width="1.5" stroke-linejoin="round"/>
<path d="M403.5 71.09 L404.05 71.11 L404.59 71.12 L405.14 71.14 L405.69 71.16 L406.24 71.17 L406.78 71.19 L407.33 71.21 L407.88 71.23 L408.42 71.24 L408.97 71.26 L409.52 71.28 L410.07 71.3 L410.61 71.32 L411.16 71.34 L411.71 71.36 L412.25 71.38 L412.8 71.4 L413.35 71.42 L413.89 71.45 L414.44 71.47 L414.99 71.49 L415.54 71.51 L416.08 71.54 L416.63 71.56 L417.18 71.59 L417.72 71.61 L418.27 71.64 L418.82 71.66 L419.37 71.69 L419.91 71.71 L420.46 71.74 L421.01 71.77 L421.55 71.8 L422.1 71.83 L422.65 71.85 L423.2 71.88 L423.74 71.91 L424.29 71.95 L424.84 71.98 L425.38 72.01 L425.93 72.04 L426.48 72.08 L427.03 72.11 L427.57 72.14 L428.12 72.18 L428.67 72.21 L429.21 72.25 L429.76 72.29 L430.31 72.33 L430.85 72.37 L431.4 72.4 L431.95 72.44 L432.5 72.49 L433.04 72.53 L433.59 72.57 L434.14 72.61 L434.68 72.66 L435.23 72.7 L435.78 72.75 L436.33 72.79 L436.87 72.84 L437.42 72.89 L437.97 72.94 L438.51 72.99 L439.06 73.04 L439.61 73.09 L440.16 73.14 L440.7 73.2 L441.25 73.25 L441.8 73.31 L442.34 73.36 L442.89 73.42 L443.44 73.48 L443.98 73.54 L444.53 73.6 L445.08 73.66 L445.63 73.73 L446.17 73.79 L446.72 73.86 L447.27 73.93 L447.81 73.99 L448.36 74.06 L448.91 74.13 L449.46 74.21 L450 74.28 L450.55 74.36 L451.1 74.43 L451.64 74.51 L452.19 74.59 L452.74 74.67 L453.29 74.75 L453.83 74.84 L454.38 74.92 L454.93 75.01 L455.47 75.1 L456.02 75.19 L456.57 75.28 L457.12 75.37 L457.66 75.47 L458.21 75.57 L458.76 75.66 L459.3 75.76 L459.85 75.87 L460.4 75.97 L460.94 76.08 L461.49 76.19 L462.04 76.3 L462.59 76.41 L463.13 76.52 L463.68 76.64 L464.23 76.76 L464.77 76.88 L465.32 77.01 L465.87 77.13 L466.42 77.26 L466.96 77.39 L467.51 77.52 L468.06 77.66 L468.6 77.8 L469.15 77.94 L469.7 78.08 L470.25 78.23 L470.79 78.37 L471.34 78.52 L471.89 78.68 L472.43 78.84 L472.98 79 L473.53 79.16 L474.08 79.32 L474.62 79.49 L475.17 79.67 L475.72 79.84 L476.26 80.02 L476.81 80.2 L477.36 80.39 L477.9 80.58 L478.45 80.77 L479 80.96 L479.55 81.16 L480.09 81.37 L480.64 81.57 L481.19 81.78 L481.73 82 L482.28 82.22 L482.83 82.44 L483.38 82.67 L483.92 82.9 L484.47 83.13 L485.02 83.37 L485.56 83.62 L486.11 83.87 L486.66 84.12 L487.21 84.38 L487.75 84.64 L488.3 84.91 L488.85 85.18 L489.39 85.46 L489.94 85.74 L490.49 86.03 L491.04 86.33 L491.58 86.63 L492.13 86.93 L492.68 87.24 L493.22 87.56 L493.77 87.88 L494.32 88.21 L494.86 88.54 L495.41 88.88 L495.96 89.23 L496.51 89.59 L497.05 89.95 L497.6 90.31 L498.15 90.69 L498.69 91.07 L499.24 91.45 L499.79 91.85 L500.34 92.25 L500.88 92.66 L501.43 93.08 L501.98 93.5 L502.52 93.94 L503.07 94.38 L503.62 94.83 L504.17 95.28 L504.71 95.75 L505.26 96.23 L505.81 96.71 L506.35 97.2 L506.9 97.7 L507.45 98.22 L507.99 98.74 L508.54 99.27 L509.09 99.81 L509.64 100.36 L510.18 100.92 L510.73 101.49 L511.28 102.07 L511.82 102.67 L512.37 103.27 L512.92 103.88 L513.47 104.51 L514.01 105.15 L514.56 105.8 L515.11 106.46 L515.65 107.14 L516.2 107.82 L516.75 108.52 L517.3 109.24 L517.84 109.96 L518.39 110.7 L518.94 111.45 L519.48 112.22 L520.03 113 L520.58 113.8 L521.13 114.61 L521.67 115.44 L522.22 116.28 L522.77 117.14 L523.31 118.01 L523.86 118.9 L524.41 119.81 L524.95 120.73 L525.5 121.67 L526.05 122.63 L526.6 123.6 L527.14 124.6 L527.69 125.61 L528.24 126.64 L528.78 127.69 L529.33 128.76 L529.88 129.85 L530.43 130.96 L530.97 132.09 L531.52 133.24 L532.07 134.42 L532.61 135.61 L533.16 136.83 L533.71 138.07 L534.26 139.33 L534.8 140.62 L535.35 141.93 L535.9 143.27 L536.44 144.63 L536.99 146.01 L537.54 147.42 L538.09 148.86 L538.63 150.32 L539.18 151.82 L539.73 153.34 L540.27 154.88 L540.82 156.46 L541.37 158.07 L541.91 159.7 L542.46 161.37 L543.01 163.07 L543.56 164.79 L544.1 166.56 L544.65 168.35 L545.2 170.18 L545.74 172.04 L546.29 173.93 L546.84 175.87 L547.39 177.83 L547.93 179.84 L548.48 181.88 L549.03 183.96 L549.57 186.08 L550.12 188.23 L550.67 190.43 L551.22 192.67 L551.76 194.95 L552.31 197.27 L552.86 199.64 L553.4 202.05 L553.95 204.51 L554.5 207.01 L555.05 209.55 L555.52 211.8" fill="none" stroke="#8b3456" stroke-width="1.5" stroke-linejoin="round"/>
<path d="M403.5 66.64 L404.05 66.49 L404.59 66.34 L405.14 66.2 L405.69 66.06 L406.24 65.93 L406.78 65.8 L407.33 65.67 L407.88 65.55 L408.42 65.43 L408.97 65.31 L409.52 65.2 L410.07 65.1 L410.61 64.99 L411.16 64.89 L411.71 64.8 L412.25 64.7 L412.8 64.61 L413.35 64.53 L413.89 64.45 L414.44 64.37 L414.99 64.3 L415.54 64.23 L416.08 64.16 L416.63 64.1 L417.18 64.04 L417.72 63.99 L418.27 63.94 L418.82 63.89 L419.37 63.85 L419.91 63.81 L420.46 63.78 L421.01 63.74 L421.55 63.72 L422.1 63.69 L422.65 63.67 L423.2 63.66 L423.74 63.65 L424.29 63.64 L424.84 63.63 L425.38 63.63 L425.93 63.64 L426.48 63.64 L427.03 63.65 L427.57 63.67 L428.12 63.69 L428.67 63.71 L429.21 63.74 L429.76 63.77 L430.31 63.8 L430.85 63.84 L431.4 63.88 L431.95 63.92 L432.5 63.97 L433.04 64.02 L433.59 64.08 L434.14 64.14 L434.68 64.21 L435.23 64.27 L435.78 64.35 L436.33 64.42 L436.87 64.5 L437.42 64.59 L437.97 64.67 L438.51 64.76 L439.06 64.86 L439.61 64.96 L440.16 65.06 L440.7 65.17 L441.25 65.28 L441.8 65.39 L442.34 65.51 L442.89 65.63 L443.44 65.76 L443.98 65.88 L444.53 66.02 L445.08 66.16 L445.63 66.3 L446.17 66.44 L446.72 66.59 L447.27 66.74 L447.81 66.9 L448.36 67.06 L448.91 67.22 L449.46 67.39 L450 67.56 L450.55 67.73 L451.1 67.91 L451.64 68.1 L452.19 68.28 L452.74 68.47 L453.29 68.67 L453.83 68.87 L454.38 69.07 L454.93 69.27 L455.47 69.48 L456.02 69.7 L456.57 69.91 L457.12 70.13 L457.66 70.36 L458.21 70.59 L458.76 70.82 L459.3 71.06 L459.85 71.3 L460.4 71.54 L460.94 71.79 L461.49 72.04 L462.04 72.3 L462.59 72.56 L463.13 72.82 L463.68 73.09 L464.23 73.36 L464.77 73.63 L465.32 73.91 L465.87 74.19 L466.42 74.48 L466.96 74.77 L467.51 75.06 L468.06 75.36 L468.6 75.66 L469.15 75.96 L469.7 76.27 L470.25 76.59 L470.79 76.9 L471.34 77.22 L471.89 77.55 L472.43 77.88 L472.98 78.21 L473.53 78.54 L474.08 78.88 L474.62 79.23 L475.17 79.57 L475.72 79.92 L476.26 80.28 L476.81 80.64 L477.36 81 L477.9 81.37 L478.45 81.74 L479 82.11 L479.55 82.49 L480.09 82.87 L480.64 83.26 L481.19 83.64 L481.73 84.04 L482.28 84.43 L482.83 84.83 L483.38 85.24 L483.92 85.65 L484.47 86.06 L485.02 86.48 L485.56 86.9 L486.11 87.32 L486.66 87.75 L487.21 88.18 L487.75 88.61 L488.3 89.05 L488.85 89.49 L489.39 89.94 L489.94 90.39 L490.49 90.85 L491.04 91.3 L491.58 91.77 L492.13 92.23 L492.68 92.7 L493.22 93.17 L493.77 93.65 L494.32 94.13 L494.86 94.62 L495.41 95.11 L495.96 95.6 L496.51 96.09 L497.05 96.59 L497.6 97.1 L498.15 97.61 L498.69 98.12 L499.24 98.63 L499.79 99.15 L500.34 99.67 L500.88 100.2 L501.43 100.73 L501.98 101.27 L502.52 101.8 L503.07 102.35 L503.62 102.89 L504.17 103.44 L504.71 104 L505.26 104.55 L505.81 105.11 L506.35 105.68 L506.9 106.25 L507.45 106.82 L507.99 107.4 L508.54 107.98 L509.09 108.56 L509.64 109.15 L510.18 109.74 L510.73 110.34 L511.28 110.94 L511.82 111.54 L512.37 112.15 L512.92 112.76 L513.47 113.37 L514.01 113.99 L514.56 114.61 L515.11 115.24 L515.65 115.87 L516.2 116.5 L516.75 117.14 L517.3 117.78 L517.84 118.43 L518.39 119.08 L518.94 119.73 L519.48 120.39 L520.03 121.05 L520.58 121.71 L521.13 122.38 L521.67 123.05 L522.22 123.73 L522.77 124.41 L523.31 125.09 L523.86 125.78 L524.41 126.47 L524.95 127.16 L525.5 127.86 L526.05 128.57 L526.6 129.27 L527.14 129.98 L527.69 130.7 L528.24 131.41 L528.78 132.14 L529.33 132.86 L529.88 133.59 L530.43 134.32 L530.97 135.06 L531.52 135.8 L532.07 136.55 L532.61 137.29 L533.16 138.05 L533.71 138.8 L534.26 139.56 L534.8 140.33 L535.35 141.09 L535.9 141.87 L536.44 142.64 L536.99 143.42 L537.54 144.2 L538.09 144.99 L538.63 145.78 L539.18 146.57 L539.73 147.37 L540.27 148.17 L540.82 148.98 L541.37 149.79 L541.91 150.6 L542.46 151.42 L543.01 152.24 L543.56 153.07 L544.1 153.9 L544.65 154.73 L545.2 155.56 L545.74 156.4 L546.29 157.25 L546.84 158.1 L547.39 158.95 L547.93 159.8 L548.48 160.66 L549.03 161.53 L549.57 162.39 L550.12 163.26 L550.67 164.14 L551.22 165.02 L551.76 165.9 L552.31 166.79 L552.86 167.68 L553.4 168.57 L553.95 169.47 L554.5 170.37 L555.05 171.27 L555.59 172.18 L556.14 173.09 L556.69 174.01 L557.23 174.93 L557.78 175.86 L558.33 176.78 L558.87 177.72 L559.42 178.65 L559.97 179.59 L560.52 180.54 L561.06 181.48 L561.61 182.43 L562.16 183.39 L562.7 184.35 L563.25 185.31 L563.8 186.28 L564.35 187.25 L564.89 188.22 L565.44 189.2 L565.99 190.18 L566.53 191.16 L567.08 192.15 L567.63 193.15 L568.18 194.14 L568.72 195.14 L569.27 196.15 L569.82 197.16 L570.36 198.17 L570.91 199.19 L571.46 200.21 L572.01 201.23 L572.55 202.26 L573.1 203.29 L573.65 204.32 L574.19 205.36 L574.74 206.4 L575.29 207.45 L575.83 208.5 L576.38 209.56 L576.93 210.61 L577.48 211.68 L577.54 211.8" fill="none" stroke="#c81fc8" stroke-width="1.6" stroke-linejoin="round"/>
<path d="M403.5 56.59 L404.05 56.77 L404.59 56.95 L405.14 57.14 L405.69 57.32 L406.24 57.5 L406.78 57.68 L407.33 57.87 L407.88 58.05 L408.42 58.23 L408.97 58.42 L409.52 58.6 L410.07 58.78 L410.61 58.97 L411.16 59.15 L411.71 59.34 L412.25 59.52 L412.8 59.7 L413.35 59.89 L413.89 60.08 L414.44 60.26 L414.99 60.45 L415.54 60.63 L416.08 60.82 L416.63 61 L417.18 61.19 L417.72 61.38 L418.27 61.56 L418.82 61.75 L419.37 61.94 L419.91 62.13 L420.46 62.32 L421.01 62.5 L421.55 62.69 L422.1 62.88 L422.65 63.07 L423.2 63.26 L423.74 63.45 L424.29 63.64 L424.84 63.83 L425.38 64.02 L425.93 64.21 L426.48 64.4 L427.03 64.59 L427.57 64.79 L428.12 64.98 L428.67 65.17 L429.21 65.36 L429.76 65.56 L430.31 65.75 L430.85 65.95 L431.4 66.14 L431.95 66.33 L432.5 66.53 L433.04 66.73 L433.59 66.92 L434.14 67.12 L434.68 67.31 L435.23 67.51 L435.78 67.71 L436.33 67.91 L436.87 68.11 L437.42 68.31 L437.97 68.51 L438.51 68.71 L439.06 68.91 L439.61 69.11 L440.16 69.31 L440.7 69.51 L441.25 69.71 L441.8 69.92 L442.34 70.12 L442.89 70.33 L443.44 70.53 L443.98 70.74 L444.53 70.94 L445.08 71.15 L445.63 71.36 L446.17 71.57 L446.72 71.77 L447.27 71.98 L447.81 72.19 L448.36 72.4 L448.91 72.61 L449.46 72.83 L450 73.04 L450.55 73.25 L451.1 73.47 L451.64 73.68 L452.19 73.9 L452.74 74.11 L453.29 74.33 L453.83 74.55 L454.38 74.77 L454.93 74.99 L455.47 75.21 L456.02 75.43 L456.57 75.65 L457.12 75.88 L457.66 76.1 L458.21 76.33 L458.76 76.55 L459.3 76.78 L459.85 77.01 L460.4 77.24 L460.94 77.47 L461.49 77.7 L462.04 77.93 L462.59 78.17 L463.13 78.4 L463.68 78.64 L464.23 78.87 L464.77 79.11 L465.32 79.35 L465.87 79.59 L466.42 79.83 L466.96 80.08 L467.51 80.32 L468.06 80.57 L468.6 80.81 L469.15 81.06 L469.7 81.31 L470.25 81.56 L470.79 81.81 L471.34 82.07 L471.89 82.32 L472.43 82.58 L472.98 82.84 L473.53 83.1 L474.08 83.36 L474.62 83.62 L475.17 83.89 L475.72 84.16 L476.26 84.43 L476.81 84.7 L477.36 84.97 L477.9 85.24 L478.45 85.52 L479 85.8 L479.55 86.08 L480.09 86.36 L480.64 86.64 L481.19 86.93 L481.73 87.21 L482.28 87.5 L482.83 87.8 L483.38 88.09 L483.92 88.39 L484.47 88.69 L485.02 88.99 L485.56 89.29 L486.11 89.6 L486.66 89.91 L487.21 90.22 L487.75 90.53 L488.3 90.85 L488.85 91.17 L489.39 91.49 L489.94 91.81 L490.49 92.14 L491.04 92.47 L491.58 92.8 L492.13 93.14 L492.68 93.48 L493.22 93.82 L493.77 94.16 L494.32 94.51 L494.86 94.86 L495.41 95.22 L495.96 95.58 L496.51 95.94 L497.05 96.3 L497.6 96.67 L498.15 97.05 L498.69 97.42 L499.24 97.8 L499.79 98.19 L500.34 98.57 L500.88 98.97 L501.43 99.36 L501.98 99.76 L502.52 100.17 L503.07 100.57 L503.62 100.99 L504.17 101.4 L504.71 101.83 L505.26 102.25 L505.81 102.68 L506.35 103.12 L506.9 103.56 L507.45 104.01 L507.99 104.46 L508.54 104.91 L509.09 105.37 L509.64 105.84 L510.18 106.31 L510.73 106.79 L511.28 107.27 L511.82 107.76 L512.37 108.26 L512.92 108.76 L513.47 109.27 L514.01 109.78 L514.56 110.3 L515.11 110.82 L515.65 111.36 L516.2 111.9 L516.75 112.44 L517.3 113 L517.84 113.56 L518.39 114.12 L518.94 114.7 L519.48 115.28 L520.03 115.87 L520.58 116.47 L521.13 117.07 L521.67 117.69 L522.22 118.31 L522.77 118.94 L523.31 119.58 L523.86 120.22 L524.41 120.88 L524.95 121.54 L525.5 122.22 L526.05 122.9 L526.6 123.59 L527.14 124.3 L527.69 125.01 L528.24 125.73 L528.78 126.46 L529.33 127.21 L529.88 127.96 L530.43 128.73 L530.97 129.5 L531.52 130.29 L532.07 131.09 L532.61 131.9 L533.16 132.72 L533.71 133.55 L534.26 134.4 L534.8 135.26 L535.35 136.13 L535.9 137.01 L536.44 137.91 L536.99 138.82 L537.54 139.75 L538.09 140.68 L538.63 141.64 L539.18 142.6 L539.73 143.59 L540.27 144.58 L540.82 145.6 L541.37 146.63 L541.91 147.67 L542.46 148.73 L543.01 149.81 L543.56 150.9 L544.1 152.01 L544.65 153.14 L545.2 154.29 L545.74 155.45 L546.29 156.64 L546.84 157.84 L547.39 159.06 L547.93 160.3 L548.48 161.56 L549.03 162.84 L549.57 164.14 L550.12 165.46 L550.67 166.81 L551.22 168.17 L551.76 169.56 L552.31 170.97 L552.86 172.4 L553.4 173.86 L553.95 175.34 L554.5 176.84 L555.05 178.37 L555.59 179.93 L556.14 181.51 L556.69 183.12 L557.23 184.75 L557.78 186.41 L558.33 188.1 L558.87 189.82 L559.42 191.56 L559.97 193.34 L560.52 195.14 L561.06 196.98 L561.61 198.84 L562.16 200.74 L562.7 202.67 L563.25 204.63 L563.8 206.63 L564.35 208.66 L564.89 210.72 L565.17 211.8" fill="none" stroke="#e5283f" stroke-width="1.5" stroke-linejoin="round"/>
<path d="M403.5 58.4 L404.05 58.54 L404.59 58.69 L405.14 58.84 L405.69 58.99 L406.24 59.14 L406.78 59.29 L407.33 59.44 L407.88 59.59 L408.42 59.74 L408.97 59.89 L409.52 60.04 L410.07 60.19 L410.61 60.34 L411.16 60.49 L411.71 60.64 L412.25 60.79 L412.8 60.94 L413.35 61.09 L413.89 61.24 L414.44 61.39 L414.99 61.54 L415.54 61.69 L416.08 61.85 L416.63 62 L417.18 62.15 L417.72 62.3 L418.27 62.46 L418.82 62.61 L419.37 62.76 L419.91 62.91 L420.46 63.07 L421.01 63.22 L421.55 63.38 L422.1 63.53 L422.65 63.68 L423.2 63.84 L423.74 63.99 L424.29 64.15 L424.84 64.3 L425.38 64.46 L425.93 64.62 L426.48 64.77 L427.03 64.93 L427.57 65.09 L428.12 65.24 L428.67 65.4 L429.21 65.56 L429.76 65.72 L430.31 65.88 L430.85 66.04 L431.4 66.2 L431.95 66.35 L432.5 66.52 L433.04 66.68 L433.59 66.84 L434.14 67 L434.68 67.16 L435.23 67.32 L435.78 67.49 L436.33 67.65 L436.87 67.81 L437.42 67.98 L437.97 68.14 L438.51 68.31 L439.06 68.48 L439.61 68.64 L440.16 68.81 L440.7 68.98 L441.25 69.15 L441.8 69.31 L442.34 69.48 L442.89 69.66 L443.44 69.83 L443.98 70 L444.53 70.17 L445.08 70.34 L445.63 70.52 L446.17 70.69 L446.72 70.87 L447.27 71.04 L447.81 71.22 L448.36 71.4 L448.91 71.58 L449.46 71.76 L450 71.94 L450.55 72.12 L451.1 72.3 L451.64 72.49 L452.19 72.67 L452.74 72.86 L453.29 73.05 L453.83 73.23 L454.38 73.42 L454.93 73.61 L455.47 73.8 L456.02 74 L456.57 74.19 L457.12 74.39 L457.66 74.58 L458.21 74.78 L458.76 74.98 L459.3 75.18 L459.85 75.38 L460.4 75.59 L460.94 75.79 L461.49 76 L462.04 76.21 L462.59 76.42 L463.13 76.63 L463.68 76.84 L464.23 77.06 L464.77 77.27 L465.32 77.49 L465.87 77.71 L466.42 77.93 L466.96 78.16 L467.51 78.38 L468.06 78.61 L468.6 78.84 L469.15 79.07 L469.7 79.31 L470.25 79.54 L470.79 79.78 L471.34 80.03 L471.89 80.27 L472.43 80.51 L472.98 80.76 L473.53 81.01 L474.08 81.27 L474.62 81.52 L475.17 81.78 L475.72 82.05 L476.26 82.31 L476.81 82.58 L477.36 82.85 L477.9 83.12 L478.45 83.4 L479 83.68 L479.55 83.96 L480.09 84.25 L480.64 84.53 L481.19 84.83 L481.73 85.12 L482.28 85.42 L482.83 85.73 L483.38 86.03 L483.92 86.34 L484.47 86.66 L485.02 86.97 L485.56 87.29 L486.11 87.62 L486.66 87.95 L487.21 88.28 L487.75 88.62 L488.3 88.96 L488.85 89.31 L489.39 89.66 L489.94 90.01 L490.49 90.37 L491.04 90.74 L491.58 91.11 L492.13 91.48 L492.68 91.86 L493.22 92.24 L493.77 92.63 L494.32 93.02 L494.86 93.42 L495.41 93.82 L495.96 94.23 L496.51 94.64 L497.05 95.06 L497.6 95.49 L498.15 95.91 L498.69 96.35 L499.24 96.79 L499.79 97.24 L500.34 97.69 L500.88 98.14 L501.43 98.61 L501.98 99.08 L502.52 99.55 L503.07 100.03 L503.62 100.52 L504.17 101.01 L504.71 101.51 L505.26 102.01 L505.81 102.52 L506.35 103.04 L506.9 103.56 L507.45 104.09 L507.99 104.63 L508.54 105.17 L509.09 105.72 L509.64 106.27 L510.18 106.84 L510.73 107.4 L511.28 107.98 L511.82 108.56 L512.37 109.15 L512.92 109.74 L513.47 110.34 L514.01 110.95 L514.56 111.56 L515.11 112.18 L515.65 112.81 L516.2 113.44 L516.75 114.08 L517.3 114.73 L517.84 115.38 L518.39 116.04 L518.94 116.71 L519.48 117.38 L520.03 118.06 L520.58 118.75 L521.13 119.44 L521.67 120.14 L522.22 120.84 L522.77 121.56 L523.31 122.27 L523.86 123 L524.41 123.73 L524.95 124.47 L525.5 125.21 L526.05 125.96 L526.6 126.72 L527.14 127.48 L527.69 128.25 L528.24 129.02 L528.78 129.8 L529.33 130.59 L529.88 131.38 L530.43 132.18 L530.97 132.99 L531.52 133.8 L532.07 134.61 L532.61 135.43 L533.16 136.26 L533.71 137.09 L534.26 137.93 L534.8 138.78 L535.35 139.63 L535.9 140.48 L536.44 141.34 L536.99 142.2 L537.54 143.07 L538.09 143.95 L538.63 144.83 L539.18 145.71 L539.73 146.6 L540.27 147.5 L540.82 148.4 L541.37 149.3 L541.91 150.21 L542.46 151.12 L543.01 152.04 L543.56 152.96 L544.1 153.89 L544.65 154.82 L545.2 155.75 L545.74 156.69 L546.29 157.63 L546.84 158.58 L547.39 159.53 L547.93 160.49 L548.48 161.44 L549.03 162.41 L549.57 163.37 L550.12 164.34 L550.67 165.31 L551.22 166.29 L551.76 167.27 L552.31 168.25 L552.86 169.24 L553.4 170.23 L553.95 171.22 L554.5 172.21 L555.05 173.21 L555.59 174.21 L556.14 175.22 L556.69 176.22 L557.23 177.23 L557.78 178.25 L558.33 179.26 L558.87 180.28 L559.42 181.3 L559.97 182.32 L560.52 183.35 L561.06 184.37 L561.61 185.4 L562.16 186.44 L562.7 187.47 L563.25 188.51 L563.8 189.55 L564.35 190.59 L564.89 191.63 L565.44 192.68 L565.99 193.72 L566.53 194.77 L567.08 195.82 L567.63 196.87 L568.18 197.93 L568.72 198.98 L569.27 200.04 L569.82 201.1 L570.36 202.16 L570.91 203.23 L571.46 204.29 L572.01 205.36 L572.55 206.42 L573.1 207.49 L573.65 208.56 L574.19 209.63 L574.74 210.71 L575.29 211.78 L575.3 211.8" fill="none" stroke="#00f2f2" stroke-width="2.0" stroke-linejoin="round"/>
<path d="M424.05 211.8v-1.6M424.05 0.8v1.6M436.06 211.8v-1.6M436.06 0.8v1.6M444.59 211.8v-1.6M444.59 0.8v1.6M451.2 211.8v-1.6M451.2 0.8v1.6M456.61 211.8v-1.6M456.61 0.8v1.6M461.18 211.8v-1.6M461.18 0.8v1.6M465.14 211.8v-1.6M465.14 0.8v1.6M468.63 211.8v-1.6M468.63 0.8v1.6M471.75 211.8v-3.2M471.75 0.8v3.2M492.3 211.8v-1.6M492.3 0.8v1.6M504.31 211.8v-1.6M504.31 0.8v1.6M512.84 211.8v-1.6M512.84 0.8v1.6M519.45 211.8v-1.6M519.45 0.8v1.6M524.86 211.8v-1.6M524.86 0.8v1.6M529.43 211.8v-1.6M529.43 0.8v1.6M533.39 211.8v-1.6M533.39 0.8v1.6M536.88 211.8v-1.6M536.88 0.8v1.6M540 211.8v-3.2M540 0.8v3.2M560.55 211.8v-1.6M560.55 0.8v1.6M572.56 211.8v-1.6M572.56 0.8v1.6M581.09 211.8v-1.6M581.09 0.8v1.6M587.7 211.8v-1.6M587.7 0.8v1.6M593.11 211.8v-1.6M593.11 0.8v1.6M597.68 211.8v-1.6M597.68 0.8v1.6M601.64 211.8v-1.6M601.64 0.8v1.6M605.13 211.8v-1.6M605.13 0.8v1.6M608.25 211.8v-3.2M608.25 0.8v3.2M628.8 211.8v-1.6M628.8 0.8v1.6M640.81 211.8v-1.6M640.81 0.8v1.6M649.34 211.8v-1.6M649.34 0.8v1.6M655.95 211.8v-1.6M655.95 0.8v1.6M661.36 211.8v-1.6M661.36 0.8v1.6M665.93 211.8v-1.6M665.93 0.8v1.6M669.89 211.8v-1.6M669.89 0.8v1.6M673.38 211.8v-1.6M673.38 0.8v1.6M403.5 206.75h1.6M676.5 206.75h-1.6M403.5 202.84h1.6M676.5 202.84h-1.6M403.5 199.64h1.6M676.5 199.64h-1.6M403.5 196.93h1.6M676.5 196.93h-1.6M403.5 194.59h1.6M676.5 194.59h-1.6M403.5 192.52h1.6M676.5 192.52h-1.6M403.5 190.67h3.2M676.5 190.67h-3.2M403.5 178.51h1.6M676.5 178.51h-1.6M403.5 171.39h1.6M676.5 171.39h-1.6M403.5 166.34h1.6M676.5 166.34h-1.6M403.5 162.43h1.6M676.5 162.43h-1.6M403.5 159.23h1.6M676.5 159.23h-1.6M403.5 156.52h1.6M676.5 156.52h-1.6M403.5 154.18h1.6M676.5 154.18h-1.6M403.5 152.11h1.6M676.5 152.11h-1.6M403.5 150.26h3.2M676.5 150.26h-3.2M403.5 138.1h1.6M676.5 138.1h-1.6M403.5 130.99h1.6M676.5 130.99h-1.6M403.5 125.94h1.6M676.5 125.94h-1.6M403.5 122.02h1.6M676.5 122.02h-1.6M403.5 118.82h1.6M676.5 118.82h-1.6M403.5 116.12h1.6M676.5 116.12h-1.6M403.5 113.77h1.6M676.5 113.77h-1.6M403.5 111.71h1.6M676.5 111.71h-1.6M403.5 109.86h3.2M676.5 109.86h-3.2M403.5 97.69h1.6M676.5 97.69h-1.6M403.5 90.58h1.6M676.5 90.58h-1.6M403.5 85.53h1.6M676.5 85.53h-1.6M403.5 81.61h1.6M676.5 81.61h-1.6M403.5 78.41h1.6M676.5 78.41h-1.6M403.5 75.71h1.6M676.5 75.71h-1.6M403.5 73.37h1.6M676.5 73.37h-1.6M403.5 71.3h1.6M676.5 71.3h-1.6M403.5 69.45h3.2M676.5 69.45h-3.2M403.5 57.29h1.6M676.5 57.29h-1.6M403.5 50.17h1.6M676.5 50.17h-1.6M403.5 45.12h1.6M676.5 45.12h-1.6M403.5 41.21h1.6M676.5 41.21h-1.6M403.5 38.01h1.6M676.5 38.01h-1.6M403.5 35.3h1.6M676.5 35.3h-1.6M403.5 32.96h1.6M676.5 32.96h-1.6M403.5 30.89h1.6M676.5 30.89h-1.6M403.5 29.04h3.2M676.5 29.04h-3.2M403.5 16.88h1.6M676.5 16.88h-1.6M403.5 9.76h1.6M676.5 9.76h-1.6M403.5 4.72h1.6M676.5 4.72h-1.6" stroke="#222" stroke-width="0.6" fill="none"/>
<rect x="403.5" y="0.8" width="273" height="211" fill="none" stroke="#222" stroke-width="0.65"/>
<text transform="translate(403.5 228.5) rotate(0.03)" text-anchor="middle" class="t">10<tspan dy="-4.5" class="sup">0</tspan></text>
<text transform="translate(471.75 228.5) rotate(0.03)" text-anchor="middle" class="t">10<tspan dy="-4.5" class="sup">1</tspan></text>
<text transform="translate(540 228.5) rotate(0.03)" text-anchor="middle" class="t">10<tspan dy="-4.5" class="sup">2</tspan></text>
<text transform="translate(608.25 228.5) rotate(0.03)" text-anchor="middle" class="t">10<tspan dy="-4.5" class="sup">3</tspan></text>
<text transform="translate(676.5 228.5) rotate(0.03)" text-anchor="middle" class="t">10<tspan dy="-4.5" class="sup">4</tspan></text>
<text transform="translate(399.1 196.17) rotate(0.03)" text-anchor="end" class="t">10<tspan dy="-4.5" class="sup">0</tspan></text>
<text transform="translate(399.1 115.36) rotate(0.03)" text-anchor="end" class="t">10<tspan dy="-4.5" class="sup">2</tspan></text>
<text transform="translate(399.1 34.54) rotate(0.03)" text-anchor="end" class="t">10<tspan dy="-4.5" class="sup">4</tspan></text>
<rect x="544.6" y="10.1" width="125" height="87.4" fill="#fff" stroke="#222" stroke-width="0.8"/>
<circle cx="559.4" cy="17.05" r="1.15" fill="#0808f6"/>
<text transform="translate(574.1 20.15) rotate(0.03)" class="l">ca-AstroPh Network</text>
<path d="M547 29.35h24.6" stroke="#8b3456" stroke-width="1.5" fill="none"/>
<text transform="translate(574.1 32.45) rotate(0.03)" class="l">Exponential</text>
<path d="M547 41.65h24.6" stroke="#ecaf22" stroke-width="1.5" fill="none"/>
<text transform="translate(574.1 44.75) rotate(0.03)" class="l">Pareto</text>
<path d="M547 53.95h24.6" stroke="#1b8a1b" stroke-width="1.5" fill="none"/>
<text transform="translate(574.1 57.05) rotate(0.03)" class="l">Power-law</text>
<path d="M547 66.25h24.6" stroke="#c81fc8" stroke-width="1.5" fill="none"/>
<text transform="translate(574.1 69.35) rotate(0.03)" class="l">Lognormal</text>
<path d="M547 78.55h24.6" stroke="#e5283f" stroke-width="1.5" fill="none"/>
<text transform="translate(574.1 81.65) rotate(0.03)" class="l">Power-law Exp.Cutoff</text>
<path d="M547 90.85h24.6" stroke="#00f2f2" stroke-width="1.5" fill="none"/>
<text transform="translate(574.1 93.95) rotate(0.03)" class="l">Double Power-law</text>
<path d="M511.8 211.3L521.8 211.3M513.44 207.94L520.16 214.66M516.8 206.3L516.8 216.3M520.16 207.94L513.44 214.66" stroke="#f01818" stroke-width="1.05" fill="none"/>
<text transform="translate(517.2 221.8) rotate(0.03)" class="td">TD</text>
<text transform="translate(539.8 243.15) rotate(0.03)" text-anchor="middle" class="a">Node Degree</text>
<text transform="translate(367 107.4) rotate(-90.03)" text-anchor="middle" class="a">Frequency</text>
</svg>
</body></html>
